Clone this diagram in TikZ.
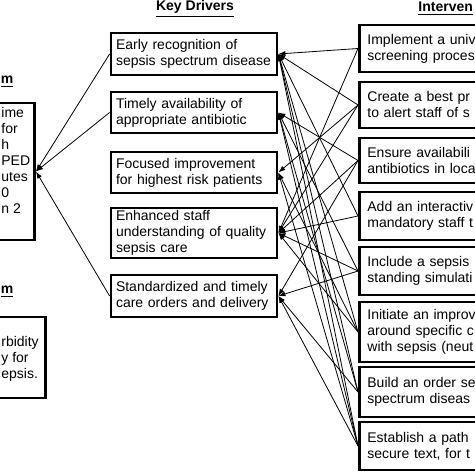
\documentclass[tikz,border=0pt]{standalone}
\usepackage{fontspec}
\setmainfont{Liberation Sans}
\usetikzlibrary{arrows.meta}
\hyphenpenalty=10000

\begin{document}
\begin{tikzpicture}[x=0.5pt, y=-0.5pt,
  box/.style={draw, line width=1.4pt, font=\fontsize{7}{8}\selectfont, align=left},
  driver/.style={box, text width=78pt, inner xsep=2.5pt, inner ysep=1pt},
  action/.style={box, anchor=west, text width=120pt, inner xsep=4pt, inner ysep=1pt},
  aimbox/.style={draw, line width=1.4pt, minimum width=80pt, anchor=east},
  aimtext/.style={font=\fontsize{7}{8}\selectfont, align=left, inner sep=0pt, anchor=north west},
  title/.style={font=\fontsize{7}{8}\selectfont\bfseries, inner sep=0pt},
  link/.style={line width=0.4pt, -{Latex[length=3.5pt, width=2.5pt]}}]

\useasboundingbox (0,0) rectangle (474,474);

% titles
\node[title, anchor=west] (aimtitle) at (0.5,82) {\underline{m}};
\node[title, anchor=west] (outtitle) at (0.5,292) {\underline{m}};
\node[title] (keytitle) at (195,9) {\underline{Key Drivers}};
\node[title, anchor=west] (acttitle) at (418,9) {\underline{Interven}};

% aims
\node[aimbox, minimum height=68.5pt] (aim1) at (36,171.5) {};
\node[aimtext] (aim1text) at (1,107) {ime\\for\\h\\PED\\utes\\0\\n 2};
\node[aimbox, minimum height=40.5pt] (aim2) at (47,357.5) {};
\node[aimtext] (aim2text) at (1,336) {rbidity\\y for\\epsis.};

% key drivers
\node[driver, minimum height=21pt] (d1) at (194,54) {Early recognition of\\sepsis spectrum disease};
\node[driver, minimum height=20.5pt] (d2) at (194,112.5) {Timely availability of\\appropriate antibiotic};
\node[driver, minimum height=20.5pt] (d3) at (194,172.5) {Focused improvement\\for highest risk patients};
\node[driver, minimum height=25pt] (d4) at (194,233) {Enhanced staff\\understanding of quality\\sepsis care};
\node[driver, minimum height=21pt] (d5) at (194,296) {Standardized and timely\\care orders and delivery};

% interventions
\node[action, minimum height=23.5pt] (i1) at (358,48.5) {Implement a univ\\screening proces};
\node[action, minimum height=23pt] (i2) at (358,105) {Create a best pr\\to alert staff of s};
\node[action, minimum height=22.5pt] (i3) at (358,160.5) {Ensure availabili\\antibiotics in loca};
\node[action, minimum height=24pt] (i4) at (358,216) {Add an interactiv\\mandatory staff t};
\node[action, minimum height=24pt] (i5) at (358,271) {Include a sepsis\\standing simulati};
\node[action, minimum height=30pt] (i6) at (358,332) {Initiate an improv\\around specific c\\with sepsis (neut};
\node[action, minimum height=25pt] (i7) at (358,392) {Build an order se\\spectrum diseas};
\node[action, minimum height=24pt] (i8) at (358,446) {Establish a path\\secure text, for t};

% drivers to aim
\draw[link] (d1.west) -- (aim1.east);
\draw[link] (d2.west) -- (aim1.east);
\draw[link] (d5.west) -- (aim1.east);

% interventions to drivers
\draw[link] (i1.west) -- (d1.east);
\draw[link] (i2.west) -- (d1.east);
\draw[link] (i4.west) -- (d1.east);
\draw[link] (i6.west) -- (d1.east);
\draw[link] (i7.west) -- (d1.east);
\draw[link] (i8.west) -- (d1.east);

\draw[link] (i3.west) -- (d2.east);
\draw[link] (i5.west) -- (d2.east);
\draw[link] (i7.west) -- (d2.east);
\draw[link] (i8.west) -- (d2.east);

\draw[link] (i2.west) -- (d3.east);
\draw[link] (i6.west) -- (d3.east);
\draw[link] (i8.west) -- (d3.east);

\draw[link] (i1.west) -- (d4.east);
\draw[link] (i2.west) -- (d4.east);
\draw[link] (i3.west) -- (d4.east);
\draw[link] (i4.west) -- (d4.east);
\draw[link] (i5.west) -- (d4.east);
\draw[link] (i6.west) -- (d4.east);

\draw[link] (i3.west) -- (d5.east);
\draw[link] (i5.west) -- (d5.east);
\draw[link] (i7.west) -- (d5.east);
\draw[link] (i8.west) -- (d5.east);

\end{tikzpicture}
\end{document}
